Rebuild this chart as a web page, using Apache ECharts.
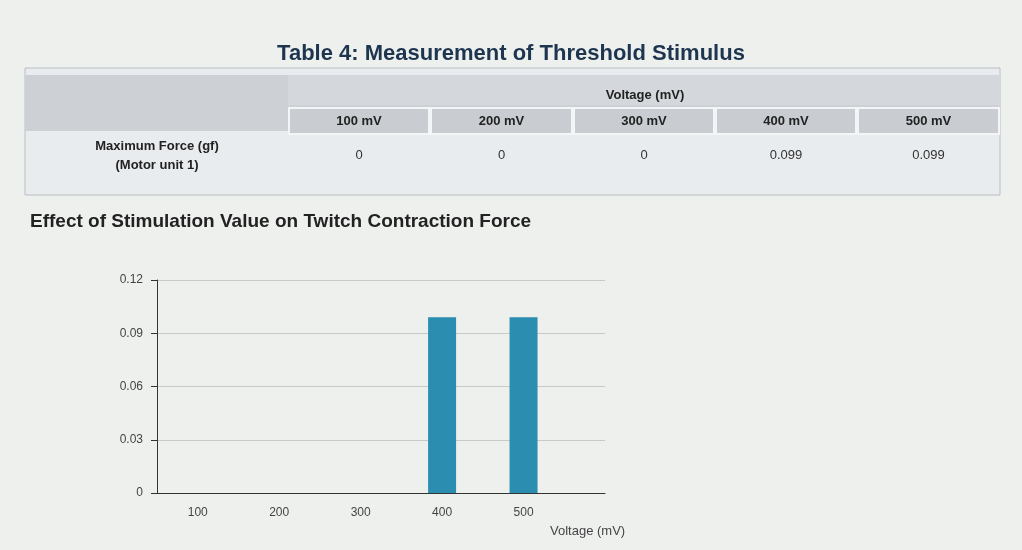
<!DOCTYPE html>
<html><head><meta charset="utf-8">
<script src="https://cdn.jsdelivr.net/npm/echarts@6/dist/echarts.min.js"></script>
<style>html,body{margin:0;padding:0;background:#eef0ee}#c{width:1022px;height:550px}</style>
</head><body><div id="c"></div>
<script>
const voltages = [100, 200, 300, 400, 500];
const tableHeaders = ['100 mV', '200 mV', '300 mV', '400 mV', '500 mV'];
const tableValues = ['0', '0', '0', '0.099', '0.099'];
const forces = [0, 0, 0, 0.099, 0.099];

const colX = [288, 430, 573, 715, 857, 1000];
const g = [];
g.push({type:'rect', shape:{x:25,y:68,width:975,height:127}, style:{fill:'#e9ecee', stroke:'#b9bec2', lineWidth:1}});
g.push({type:'rect', shape:{x:25,y:75,width:975,height:56}, style:{fill:'#cdd1d5'}});
g.push({type:'rect', shape:{x:288,y:75,width:712,height:30}, style:{fill:'#d4d8dc'}});
for (let i=0;i<5;i++){
  g.push({type:'rect', shape:{x:colX[i]+1,y:108,width:colX[i+1]-colX[i]-2,height:26}, style:{fill:'#c9cdd1', stroke:'#f4f5f6', lineWidth:2}});
  g.push({type:'text', style:{text:tableHeaders[i], x:(colX[i]+colX[i+1])/2, y:121, textAlign:'center', textVerticalAlign:'middle', font:'bold 13px Arial', fill:'#222'}});
  g.push({type:'text', style:{text:tableValues[i], x:(colX[i]+colX[i+1])/2, y:155, textAlign:'center', textVerticalAlign:'middle', font:'13px Arial', fill:'#333'}});
}
g.push({type:'text', style:{text:'Voltage (mV)', x:645, y:95, textAlign:'center', textVerticalAlign:'middle', font:'bold 13px Arial', fill:'#222'}});
g.push({type:'text', style:{text:'Maximum Force (gf)\n(Motor unit 1)', x:157, y:156, textAlign:'center', textVerticalAlign:'middle', font:'bold 13px Arial', lineHeight:19, fill:'#222'}});

const chart = echarts.init(document.getElementById('c'));
chart.setOption({
  backgroundColor:'#eef0ee',
  title:[
    {text:'Table 4: Measurement of Threshold Stimulus', left:'center', top:38, textStyle:{fontFamily:'Arial', fontSize:22, fontWeight:'bold', color:'#1e3550'}},
    {text:'Effect of Stimulation Value on Twitch Contraction Force', left:25, top:207, textStyle:{fontFamily:'Arial', fontSize:19, fontWeight:'bold', color:'#222'}}
  ],
  graphic:g,
  grid:{left:157, top:280, width:448, height:213},
  xAxis:{type:'value', min:50, max:600, interval:50, name:'Voltage (mV)', nameLocation:'end', nameGap:-55,
    nameTextStyle:{color:'#444', fontSize:13, padding:[32,0,0,0], verticalAlign:'top'},
    axisLine:{show:true, lineStyle:{color:'#333'}}, axisTick:{show:false},
    axisLabel:{color:'#444', fontSize:12, margin:14, formatter:v=>voltages.includes(v)?String(v):''},
    splitLine:{show:false}},
  yAxis:{type:'value', min:0, max:0.12, interval:0.03,
    axisLine:{show:true, lineStyle:{color:'#333'}}, axisTick:{show:true, inside:false, length:6},
    axisLabel:{color:'#444', fontSize:12, margin:14, formatter:v=>v===0?'0':v.toFixed(2)},
    splitLine:{show:true, lineStyle:{color:'#c8cac8'}}},
  series:[{type:'bar', data:voltages.map((v,i)=>[v,forces[i]]), barWidth:28, itemStyle:{color:'#2b8db0'}}]
});
</script></body></html>
